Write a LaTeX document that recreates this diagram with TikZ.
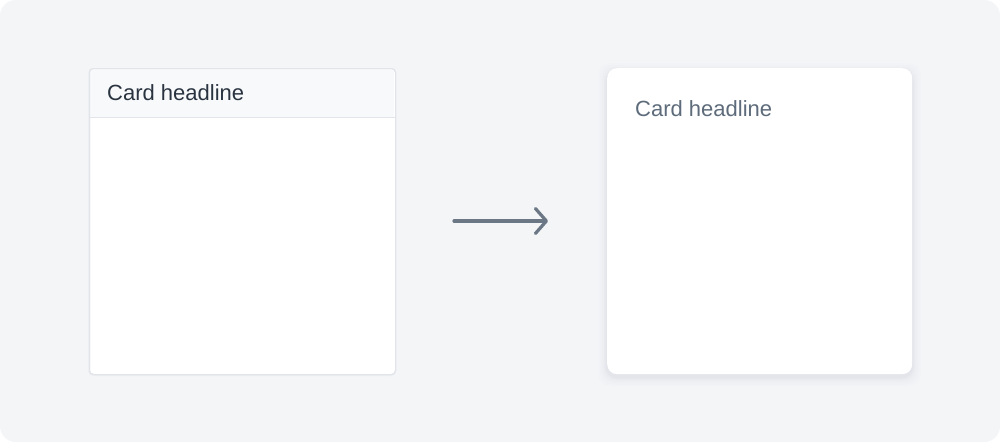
\documentclass[tikz,border=0pt]{standalone}
\usepackage{fontspec}
\setmainfont{Liberation Sans}
\usetikzlibrary{arrows.meta}
\definecolor{bgpanel}{HTML}{F4F5F7}
\definecolor{cardborder}{HTML}{E1E4E8}
\definecolor{headerfill}{HTML}{F8F9FA}
\definecolor{darktext}{HTML}{2A3441}
\definecolor{greytext}{HTML}{5D6B7A}
\definecolor{arrowcol}{HTML}{6B7785}
\definecolor{shadowcol}{HTML}{8A94A3}
\tikzset{
  headtext/.style={anchor=base west, font=\fontsize{22}{26}\selectfont, inner sep=0pt},
  connector/.style={draw=arrowcol, line width=3.2pt, line cap=round,
    -{Straight Barb[length=11pt, width=25pt, line width=3.2pt, round]}},
}
\begin{document}
\begin{tikzpicture}[x=1pt,y=-1pt]
\useasboundingbox (0,0) rectangle (1000,442);
\fill[white] (0,0) rectangle (1000,442);
\fill[bgpanel, rounded corners=16pt] (0,0) rectangle (1000,442);
% left card
\fill[shadowcol, opacity=0.06, rounded corners=5pt] (88,68) rectangle (396,376);
\node[draw=cardborder, fill=white, line width=1pt, rounded corners=4pt, minimum width=306pt, minimum height=306pt, inner sep=0pt, anchor=north west] (cardA) at (89,68) {};
\begin{scope}
\clip[rounded corners=4pt] (89.5,68.5) rectangle (394.5,373.5);
\fill[headerfill] (89.5,68.5) rectangle (394.5,117);
\end{scope}
\draw[cardborder, line width=1pt] (89.5,117) -- (394.5,117);
\node[draw=cardborder, line width=1pt, rounded corners=4pt, minimum width=306pt, minimum height=306pt, inner sep=0pt, anchor=north west] at (89,68) {};
\node[headtext, text=darktext] (headA) at (107,100) {Card headline};
% right card shadow
\foreach \i/\o in {9/0.012,7/0.018,5/0.025,3/0.035,1.5/0.05}{
  \fill[shadowcol, opacity=\o, rounded corners=12pt] (607-\i,68-\i+4) rectangle (912+\i,374+\i+3);
}
\node[fill=white, rounded corners=10pt, minimum width=305pt, minimum height=306pt, inner sep=0pt, anchor=north west] (cardB) at (607,68) {};
\node[headtext, text=greytext] (headB) at (635,116) {Card headline};
% arrow
\coordinate (arrS) at (454,221);
\coordinate (arrE) at (548,221);
\draw[connector] (arrS) -- (arrE);
\end{tikzpicture}
\end{document}
